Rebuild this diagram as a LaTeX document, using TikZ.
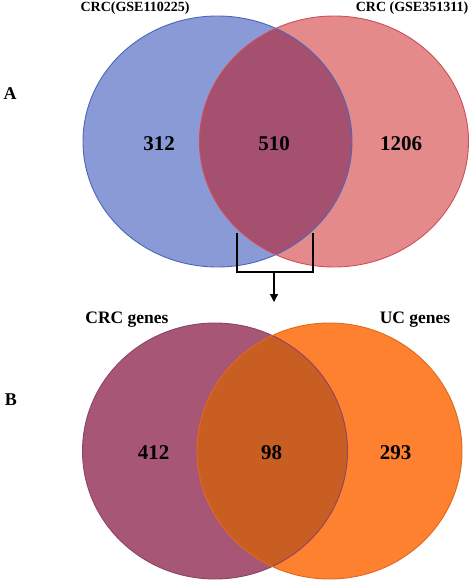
\documentclass[tikz,border=0pt]{standalone}
\usepackage{fontspec}
\setmainfont{Liberation Serif}
\usepackage{xcolor}
\usetikzlibrary{arrows.meta}

\definecolor{gseblue}{HTML}{8A9AD6}
\definecolor{gseblueline}{HTML}{4C66BC}
\definecolor{gsered}{HTML}{E48A8A}
\definecolor{gseredline}{HTML}{D04E58}
\definecolor{gseboth}{HTML}{A5506F}
\definecolor{crcpurple}{HTML}{A85676}
\definecolor{crcline}{HTML}{8C4466}
\definecolor{ucorange}{HTML}{FD812E}
\definecolor{ucline}{HTML}{E0681E}
\definecolor{crcuc}{HTML}{C95E22}

\begin{document}
\begin{tikzpicture}[
    x=1pt, y=-1pt,
    font=\bfseries,
    setA/.style={x radius=134.5pt, y radius=125.5pt},
    setB/.style={x radius=132.5pt, y radius=128pt},
    edge/.style={line width=0.9pt},
    count/.style={font=\fontsize{21}{23}\selectfont\bfseries},
    title/.style={font=\fontsize{14}{16}\selectfont\bfseries},
    gtitle/.style={font=\fontsize{17.5}{19}\selectfont\bfseries},
    panel/.style={font=\fontsize{18}{20}\selectfont\bfseries},
    bracket/.style={line width=1.6pt},
  ]
  \useasboundingbox (0,0) rectangle (474,583);

  % ---------------- Panel A ----------------
  \coordinate (gseA) at (217.5,141.5);
  \coordinate (gseB) at (334,141.5);
  \fill[gseblue] (gseA) ellipse [setA];
  \fill[gsered]  (gseB) ellipse [setA];
  \begin{scope}
    \clip (gseA) ellipse [setA];
    \fill[gseboth] (gseB) ellipse [setA];
  \end{scope}
  \draw[edge, gseblueline] (gseA) ellipse [setA];
  \draw[edge, gseredline]  (gseB) ellipse [setA];

  \node[title] (tA) at (135,8)   {CRC(GSE110225)};
  \node[title] (tB) at (412,8)   {CRC (GSE351311)};
  \node[panel] (pA) at (10,94)   {A};
  \node[count] (nA)  at (159,143.5) {312};
  \node[count] (nAB) at (274,143.5) {510};
  \node[count] (nB)  at (401,143.5) {1206};

  % ---------------- Bracket and arrow ----------------
  \coordinate (brL) at (237,233);
  \coordinate (brR) at (313,233);
  \coordinate (brM) at (274,272);
  \coordinate (arr) at (274,302);
  \draw[bracket] (brL) |- (brM) -| (brR);
  \draw[line width=1.2pt, -{Triangle[length=8pt, width=8pt]}] (brM) -- (arr);

  % ---------------- Panel B ----------------
  \coordinate (crc) at (215,451);
  \coordinate (uc)  at (329.5,451);
  \fill[crcpurple] (crc) ellipse [setB];
  \fill[ucorange]  (uc)  ellipse [setB];
  \begin{scope}
    \clip (crc) ellipse [setB];
    \fill[crcuc] (uc) ellipse [setB];
  \end{scope}
  \draw[edge, crcline] (crc) ellipse [setB];
  \draw[edge, ucline]  (uc)  ellipse [setB];

  \node[gtitle] (tC) at (127,320) {CRC genes};
  \node[gtitle] (tU) at (415,320) {UC genes};
  \node[panel] (pB) at (11,400) {B};
  \node[count] (nC)  at (153.5,453) {412};
  \node[count] (nCU) at (271.5,453) {98};
  \node[count] (nU)  at (395.5,453) {293};
\end{tikzpicture}
\end{document}
